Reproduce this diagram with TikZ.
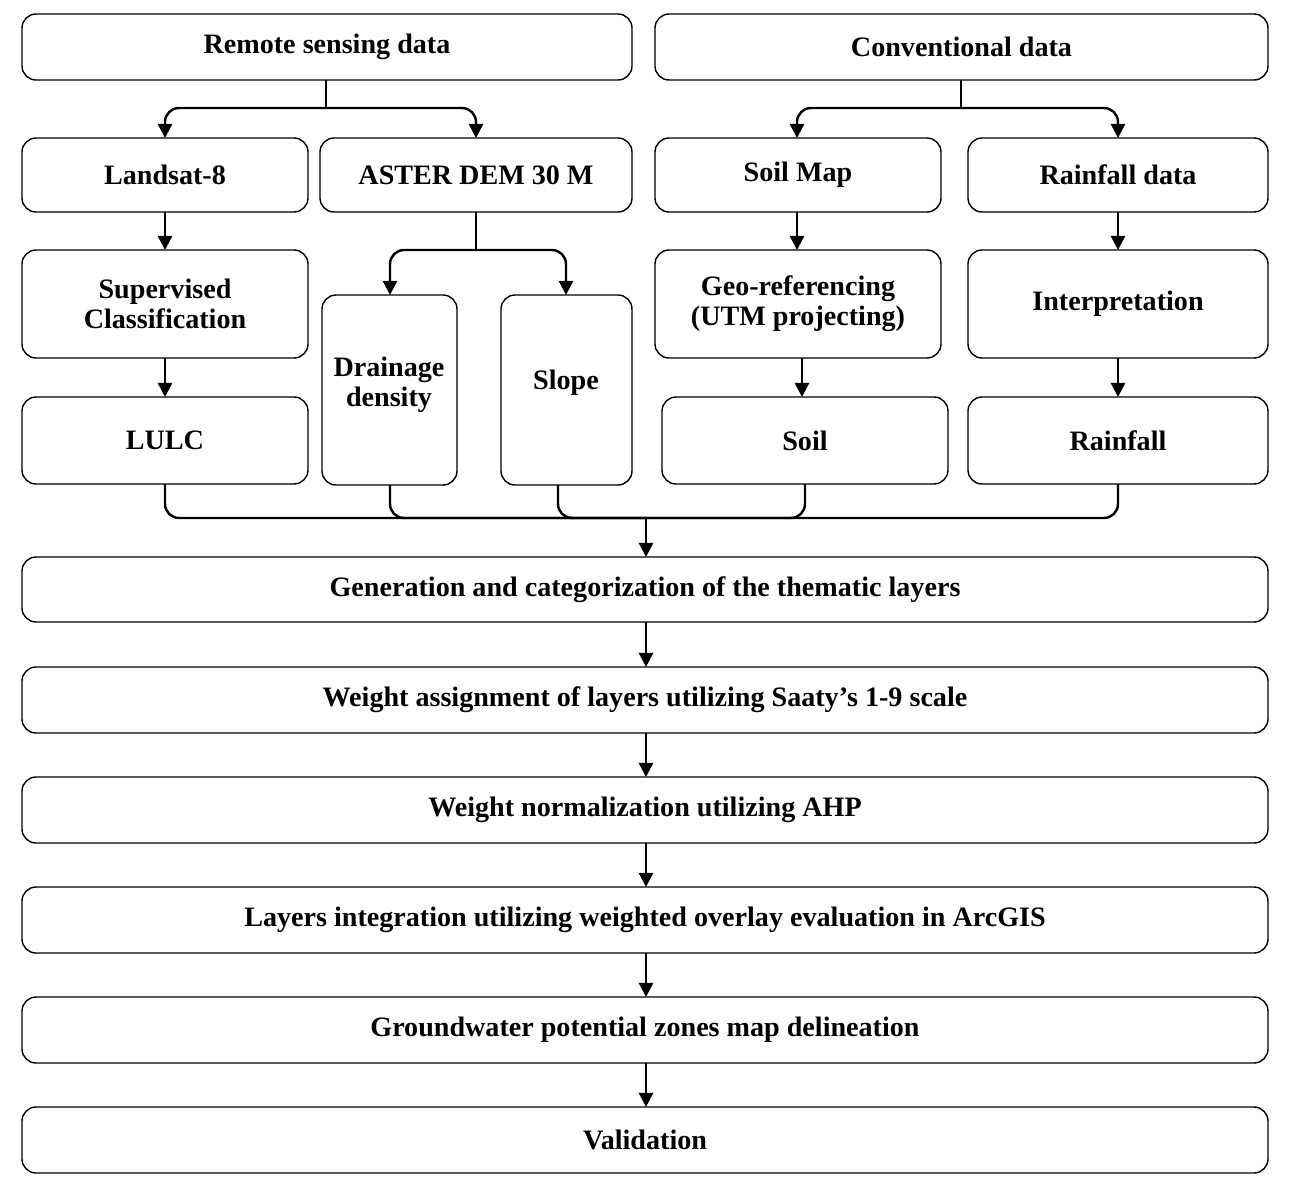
\documentclass[tikz,border=0pt]{standalone}
\usepackage{fontspec}
\setmainfont{Liberation Serif}
\usetikzlibrary{arrows.meta}
\begin{document}
\begin{tikzpicture}[x=0.02cm,y=-0.02cm,
  box/.style={draw,rounded corners=8pt,line width=0.8pt},
  lbl/.style={font=\bfseries\fontsize{16}{17}\selectfont,align=center},
  arr/.style={-{Triangle[length=8pt,width=8pt]},line width=1.4pt},
  ln/.style={line width=1.4pt,rounded corners=8pt}]
\useasboundingbox (0,0) rectangle (1299,1184);
\newcommand{\bx}[6]{\draw[box] (#2,#3) rectangle (#4,#5); \node[lbl] (#1) at ({(#2+#4)/2},{(#3+#5)/2}) {#6};}
\bx{rs}{22}{14}{632}{80}{Remote sensing data}
\bx{cd}{655}{14}{1268}{80}{Conventional data}
\bx{ls}{22}{138}{308}{212}{Landsat-8}
\bx{as}{320}{138}{632}{212}{ASTER DEM 30 M}
\bx{sm}{655}{138}{941}{212}{Soil Map}
\bx{rd}{968}{138}{1268}{212}{Rainfall data}
\bx{sc}{22}{250}{308}{358}{Supervised\\Classification}
\bx{dd}{322}{295}{457}{485}{}
\node[lbl] at (389,385) {Drainage\\density};
\bx{sl}{501}{295}{632}{485}{}
\node[lbl] at (566,383) {Slope};
\bx{gr}{655}{250}{941}{358}{Geo-referencing\\(UTM projecting)}
\bx{ip}{968}{250}{1268}{358}{Interpretation}
\bx{lu}{22}{397}{308}{484}{LULC}
\bx{so}{662}{397}{948}{484}{Soil}
\bx{rf}{968}{397}{1268}{484}{Rainfall}
\bx{g1}{22}{557}{1268}{622}{Generation and categorization of the thematic layers}
\bx{g2}{22}{667}{1268}{733}{Weight assignment of layers utilizing Saaty’s 1-9 scale}
\bx{g3}{22}{777}{1268}{843}{Weight normalization utilizing AHP}
\bx{g4}{22}{887}{1268}{953}{Layers integration utilizing weighted overlay evaluation in ArcGIS}
\bx{g5}{22}{997}{1268}{1063}{Groundwater potential zones map delineation}
\bx{g6}{22}{1107}{1268}{1173}{Validation}
% top branches
\draw[ln] (326,80) -- (326,108);
\draw[ln,arr] (326,108) -- (165,108) -- (165,138);
\draw[ln,arr] (326,108) -- (476,108) -- (476,138);
\draw[ln] (961,80) -- (961,108);
\draw[ln,arr] (961,108) -- (797,108) -- (797,138);
\draw[ln,arr] (961,108) -- (1118,108) -- (1118,138);
\draw[ln] (476,212) -- (476,250);
\draw[ln,arr] (476,250) -- (390,250) -- (390,295);
\draw[ln,arr] (476,250) -- (566,250) -- (566,295);
\draw[arr] (165,212) -- (165,250);
\draw[arr] (797,212) -- (797,250);
\draw[arr] (1118,212) -- (1118,250);
\draw[arr] (165,358) -- (165,397);
\draw[arr] (802,358) -- (802,397);
\draw[arr] (1118,358) -- (1118,397);
% bottom merge
\draw[ln] (165,484) -- (165,518) -- (646,518);
\draw[ln] (390,485) -- (390,518) -- (646,518);
\draw[ln] (558,485) -- (558,518) -- (646,518);
\draw[ln] (805,484) -- (805,518) -- (646,518);
\draw[ln] (1118,484) -- (1118,518) -- (646,518);
\draw[arr] (646,518) -- (646,557);
\draw[arr] (646,622) -- (646,667);
\draw[arr] (646,733) -- (646,777);
\draw[arr] (646,843) -- (646,887);
\draw[arr] (646,953) -- (646,997);
\draw[arr] (646,1063) -- (646,1107);
\end{tikzpicture}
\end{document}
